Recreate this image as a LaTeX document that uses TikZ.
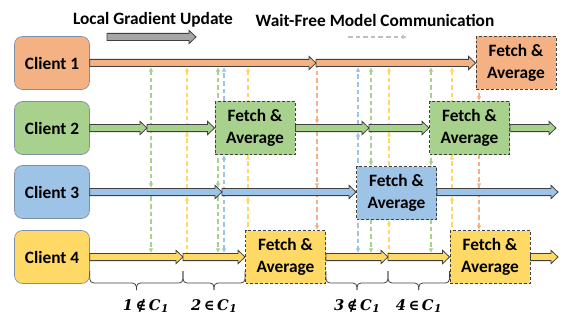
\documentclass[tikz,border=0pt]{standalone}
\usepackage{amsmath}
\usepackage[no-math]{fontspec}
\setmainfont{Carlito}
\newfontfamily\labelfont{DejaVu Serif}
\usetikzlibrary{positioning, arrows.meta, calc, backgrounds}

\definecolor{orangefill}{HTML}{F4B183}
\definecolor{greenfill}{HTML}{A9D18E}
\definecolor{bluefill}{HTML}{9DC3E6}
\definecolor{yellowfill}{HTML}{FFD966}
\definecolor{darkline}{HTML}{404040}
\definecolor{clientline}{HTML}{7F8FA6}
\definecolor{grayfill}{HTML}{A6A6A6}
\definecolor{graydash}{HTML}{BFBFBF}

\newcommand{\flowarrow}[3]{%
  \draw[flowline, fill=#3] let \p1=(#1), \p2=(#2) in
    (\x1,\y1+2.7pt) -- (\x2-5.25pt,\y1+2.7pt) -- (\x2-5.25pt,\y1+5pt) -- (\x2,\y1)
    -- (\x2-5.25pt,\y1-5pt) -- (\x2-5.25pt,\y1-2.7pt) -- (\x1,\y1-2.7pt) -- cycle;}

\newcommand{\gapbrace}[5]{%
  \draw[gap] (#1 |- bt) -- (#1 |- bm) -- ($(#1 |- bm)!0.5!(#2 |- bm)$)
    -- ($(#1 |- tip)!0.5!(#2 |- tip)$);
  \draw[gap] (#2 |- bt) -- (#2 |- bm) -- ($(#1 |- bm)!0.5!(#2 |- bm)$)
    -- ($(#1 |- tip)!0.5!(#2 |- tip)$);
  \node[gaplabel, #3] (#4) at ($(#1 |- lab)!0.5!(#2 |- lab)$) {#5};}

\newcommand{\csub}{C\kern0.5pt\raisebox{-0.35ex}{\fontsize{8}{9}\selectfont 1}}

\begin{document}
\begin{tikzpicture}[x=0.75pt, y=-0.75pt, font=\bfseries\fontsize{13}{16}\selectfont,
  client/.style={draw=clientline, line width=0.5pt, rounded corners=6pt,
                 minimum width=56.25pt, minimum height=39.75pt},
  fetchbox/.style={draw=darkline, dash pattern=on 2.2pt off 1.5pt, line width=0.7pt,
                   minimum width=60pt, minimum height=39.75pt, align=center},
  comm/.style={line width=1.1pt, dash pattern=on 3.5pt off 2.2pt,
               -{Latex[length=3.5pt, width=3.6pt]}},
  flowline/.style={draw=darkline, line width=0.6pt},
  gap/.style={draw=darkline, line width=0.6pt, rounded corners=3pt},
  gaplabel/.style={inner sep=1pt,
                   font=\labelfont\bfseries\itshape\fontsize{11}{13}\selectfont}]
  \useasboundingbox (0,0) rectangle (571,321);

  \node (lgu) at (153,20) {Local Gradient Update};
  \node (wfm) at (375,20) {Wait-Free Model Communication};
  \coordinate (la) at (107,37);
  \coordinate (lb) at (196,37);
  \coordinate (wa) at (348,37);
  \coordinate (wb) at (407,37);
  \flowarrow{la}{lb}{grayfill}
  \draw[comm, graydash] (wa) -- (wb);

  \node[client, fill=orangefill] (cl1) at (52,63) {Client 1};
  \node[client, fill=greenfill] (cl2) at (52,128) {Client 2};
  \node[client, fill=bluefill] (cl3) at (52,192) {Client 3};
  \node[client, fill=yellowfill] (cl4) at (52,257) {Client 4};

  \node[fetchbox, fill=orangefill] (fetch1) at (516,63) {Fetch \&\\Average};
  \node[fetchbox, fill=greenfill] (fetch2a) at (255,128) {Fetch \&\\Average};
  \node[fetchbox, fill=greenfill] (fetch2b) at (469.5,128) {Fetch \&\\Average};
  \node[fetchbox, fill=bluefill] (fetch3) at (396.5,193) {Fetch \&\\Average};
  \node[fetchbox, fill=yellowfill] (fetch4a) at (285.5,257) {Fetch \&\\Average};
  \node[fetchbox, fill=yellowfill] (fetch4b) at (490,257) {Fetch \&\\Average};

  \coordinate (j1) at (316,63);
  \coordinate (j2a) at (147,128);
  \coordinate (j2b) at (369,128);
  \coordinate (e2) at (556,128);
  \coordinate (j3) at (222,192);
  \coordinate (e3) at (558,192);
  \coordinate (j4a) at (183,257);
  \coordinate (j4b) at (388,257);
  \coordinate (e4) at (558,257);

  \coordinate (r1b) at (0,67);
  \coordinate (r2t) at (0,124);
  \coordinate (r2b) at (0,132);
  \coordinate (r3t) at (0,188);
  \coordinate (r3b) at (0,196);
  \coordinate (r4t) at (0,253);
  \coordinate (bt) at (0,271);
  \coordinate (bm) at (0,283);
  \coordinate (tip) at (0,290);
  \coordinate (lab) at (0,306);

  \coordinate (gA) at (151,128);
  \coordinate (gB) at (218,128);
  \coordinate (gC) at (371,128);
  \coordinate (gD) at (431,128);
  \coordinate (yA) at (187,257);
  \coordinate (yB) at (248,257);
  \coordinate (yC) at (389,257);
  \coordinate (yD) at (452,257);
  \coordinate (bA) at (224,192);
  \coordinate (bB) at (358,193);
  \coordinate (oA) at (317,63);
  \coordinate (oB) at (479,63);

  \begin{scope}[on background layer]
    \draw[comm, greenfill] (gA) -- (gA |- r1b);
    \draw[comm, greenfill] (gA) -- (gA |- r3t);
    \draw[comm, greenfill] (gA) -- (gA |- r4t);
    \draw[comm, greenfill] (gB) -- (gB |- r1b);
    \draw[comm, greenfill] (gB) -- (gB |- r3t);
    \draw[comm, greenfill] (gB) -- (gB |- r4t);
    \draw[comm, greenfill] (gC) -- (gC |- r1b);
    \draw[comm, greenfill] (gC) -- (gC |- fetch3.north);
    \draw[comm, greenfill] (gC) -- (gC |- r4t);
    \draw[comm, greenfill] (gD) -- (gD |- r1b);
    \draw[comm, greenfill] (gD) -- (gD |- fetch3.north);
    \draw[comm, greenfill] (gD) -- (gD |- r4t);
    \draw[comm, yellowfill] (yA) -- (yA |- r1b);
    \draw[comm, yellowfill] (yA) -- (yA |- r2b);
    \draw[comm, yellowfill] (yA) -- (yA |- r3b);
    \draw[comm, yellowfill] (yB) -- (yB |- r1b);
    \draw[comm, yellowfill] (yB) -- (yB |- fetch2a.south);
    \draw[comm, yellowfill] (yB) -- (yB |- r3b);
    \draw[comm, yellowfill] (yC) -- (yC |- r1b);
    \draw[comm, yellowfill] (yC) -- (yC |- r2b);
    \draw[comm, yellowfill] (yC) -- (yC |- fetch3.south);
    \draw[comm, yellowfill] (yD) -- (yD |- r1b);
    \draw[comm, yellowfill] (yD) -- (yD |- fetch2b.south);
    \draw[comm, yellowfill] (yD) -- (yD |- r3b);
    \draw[comm, bluefill] (bA) -- (bA |- r1b);
    \draw[comm, bluefill] (bA) -- (bA |- fetch2a.south);
    \draw[comm, bluefill] (bA) -- (bA |- r4t);
    \draw[comm, bluefill] (bB) -- (bB |- r1b);
    \draw[comm, bluefill] (bB) -- (bB |- r2b);
    \draw[comm, bluefill] (bB) -- (bB |- r4t);
    \draw[comm, orangefill] (oA) -- (oA |- r2t);
    \draw[comm, orangefill] (oA) -- (oA |- r3t);
    \draw[comm, orangefill] (oA) -- (oA |- fetch4a.north);
    \draw[comm, orangefill] (oB) -- (oB |- fetch2b.north);
    \draw[comm, orangefill] (oB) -- (oB |- r3t);
    \draw[comm, orangefill] (oB) -- (oB |- fetch4b.north);
  \end{scope}

  \flowarrow{cl1.east}{j1}{orangefill}
  \flowarrow{j1}{fetch1.west}{orangefill}
  \flowarrow{cl2.east}{j2a}{greenfill}
  \flowarrow{j2a}{fetch2a.west}{greenfill}
  \flowarrow{fetch2a.east}{j2b}{greenfill}
  \flowarrow{j2b}{fetch2b.west}{greenfill}
  \flowarrow{fetch2b.east}{e2}{greenfill}
  \flowarrow{cl3.east}{j3}{bluefill}
  \flowarrow{j3}{fetch3.west |- j3}{bluefill}
  \flowarrow{fetch3.east |- j3}{e3}{bluefill}
  \flowarrow{cl4.east}{j4a}{yellowfill}
  \flowarrow{j4a}{fetch4a.west}{yellowfill}
  \flowarrow{fetch4a.east}{j4b}{yellowfill}
  \flowarrow{j4b}{fetch4b.west}{yellowfill}
  \flowarrow{fetch4b.east}{e4}{yellowfill}

  \gapbrace{cl4.east}{j4a}{xshift=7pt}{lab1}{1\,∉\,\csub}
  \gapbrace{j4a}{fetch4a.west}{}{lab2}{2\,∈\,\csub}
  \gapbrace{fetch4a.east}{j4b}{}{lab3}{3\,∉\,\csub}
  \gapbrace{j4b}{fetch4b.west}{}{lab4}{4\,∈\,\csub}
\end{tikzpicture}
\end{document}
